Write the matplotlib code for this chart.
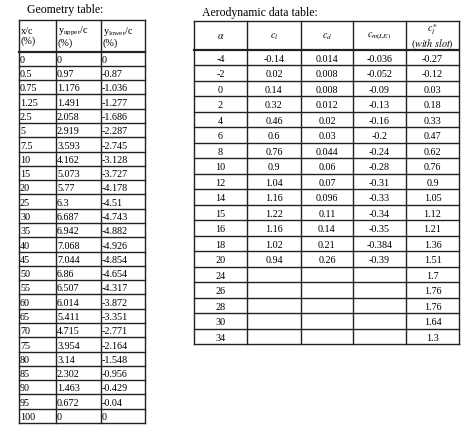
import matplotlib
matplotlib.use("Agg")
import matplotlib.pyplot as plt

plt.rcParams['font.family'] = ['Liberation Serif', 'DejaVu Serif']
plt.rcParams['mathtext.fontset'] = 'stix'

geo_x = ["0", "0.5", "0.75", "1.25", "2.5", "5", "7.5", "10", "15", "20", "25", "30", "35", "40",
         "45", "50", "55", "60", "65", "70", "75", "80", "85", "90", "95", "100"]
geo_upper = ["0", "0.97", "1.176", "1.491", "2.058", "2.919", "3.593", "4.162", "5.073", "5.77", "6.3",
             "6.687", "6.942", "7.068", "7.044", "6.86", "6.507", "6.014", "5.411", "4.715", "3.954",
             "3.14", "2.302", "1.463", "0.672", "0"]
geo_lower = ["0", "-0.87", "-1.036", "-1.277", "-1.686", "-2.287", "-2.745", "-3.128", "-3.727", "-4.178",
             "-4.51", "-4.743", "-4.882", "-4.926", "-4.854", "-4.654", "-4.317", "-3.872", "-3.351",
             "-2.771", "-2.164", "-1.548", "-0.956", "-0.429", "-0.04", "0"]

aero_alpha = ["-4", "-2", "0", "2", "4", "6", "8", "10", "12", "14", "15", "16", "18", "20", "24", "26", "28", "30", "34"]
aero_cl = ["-0.14", "0.02", "0.14", "0.32", "0.46", "0.6", "0.76", "0.9", "1.04", "1.16", "1.22", "1.16", "1.02", "0.94", "", "", "", "", ""]
aero_cd = ["0.014", "0.008", "0.008", "0.012", "0.02", "0.03", "0.044", "0.06", "0.07", "0.096", "0.11", "0.14", "0.21", "0.26", "", "", "", "", ""]
aero_cm = ["-0.036", "-0.052", "-0.09", "-0.13", "-0.16", "-0.2", "-0.24", "-0.28", "-0.31", "-0.33", "-0.34", "-0.35", "-0.384", "-0.39", "", "", "", "", ""]
aero_cls = ["-0.27", "-0.12", "0.03", "0.18", "0.33", "0.47", "0.62", "0.76", "0.9", "1.05", "1.12", "1.21", "1.36", "1.51", "1.7", "1.76", "1.76", "1.64", "1.3"]

W, H = 474, 431
fig = plt.figure(figsize=(W/100, H/100), dpi=100)
ax = fig.add_axes([0, 0, 1, 1])
ax.set_xlim(0, W); ax.set_ylim(H, 0); ax.axis('off')
lw = 1.0
fs = 7.3

def table(xs, top, hbot, bottom, nrows, headers, cols, align):
    rh = (bottom - hbot) / nrows
    for x in xs:
        ax.plot([x, x], [top, bottom], color='#222', lw=lw)
    ax.plot([xs[0], xs[-1]], [top, top], color='#222', lw=lw)
    ax.plot([xs[0], xs[-1]], [hbot, hbot], color='#222', lw=1.6)
    for i in range(nrows):
        y = hbot + (i + 1) * rh
        ax.plot([xs[0], xs[-1]], [y, y], color='#222', lw=lw)
    for j, col in enumerate(cols):
        for i, v in enumerate(col):
            y = hbot + (i + 0.55) * rh
            if align == 'left':
                ax.text(xs[j] + 1, y, v, fontsize=fs, ha='left', va='center')
            else:
                ax.text((xs[j] + xs[j+1]) / 2, y, v, fontsize=fs, ha='center', va='center')
    for j, h in enumerate(headers):
        if align == 'left':
            ax.text(xs[j] + 2, (top + hbot) / 2, h, fontsize=fs, ha='left', va='center', linespacing=1.1)
        else:
            ax.text((xs[j] + xs[j+1]) / 2, (top + hbot) / 2, h, fontsize=fs, ha='center', va='center', linespacing=1.0)

ax.text(27, 10, "Geometry table:", fontsize=8.5, ha='left', va='center')
table([19, 56, 101, 145], 21, 52.5, 424, len(geo_x),
      ["x/c\n(%)", "y$_{\\mathregular{upper}}$/c\n(%)", "y$_{\\mathregular{lower}}$/c\n(%)"],
      [geo_x, geo_upper, geo_lower], 'left')

ax.text(202, 13, "Aerodynamic data table:", fontsize=8.5, ha='left', va='center')
table([194, 247, 301, 353, 406, 459], 22, 51, 345, len(aero_alpha),
      ["$\\alpha$", "$c_l$", "$c_d$", "$c_{m(LE)}$", "$c_l^{\\ast}$\n$(with\\ slot)$"],
      [aero_alpha, aero_cl, aero_cd, aero_cm, aero_cls], 'center')

fig.savefig("out.png", dpi=100)
